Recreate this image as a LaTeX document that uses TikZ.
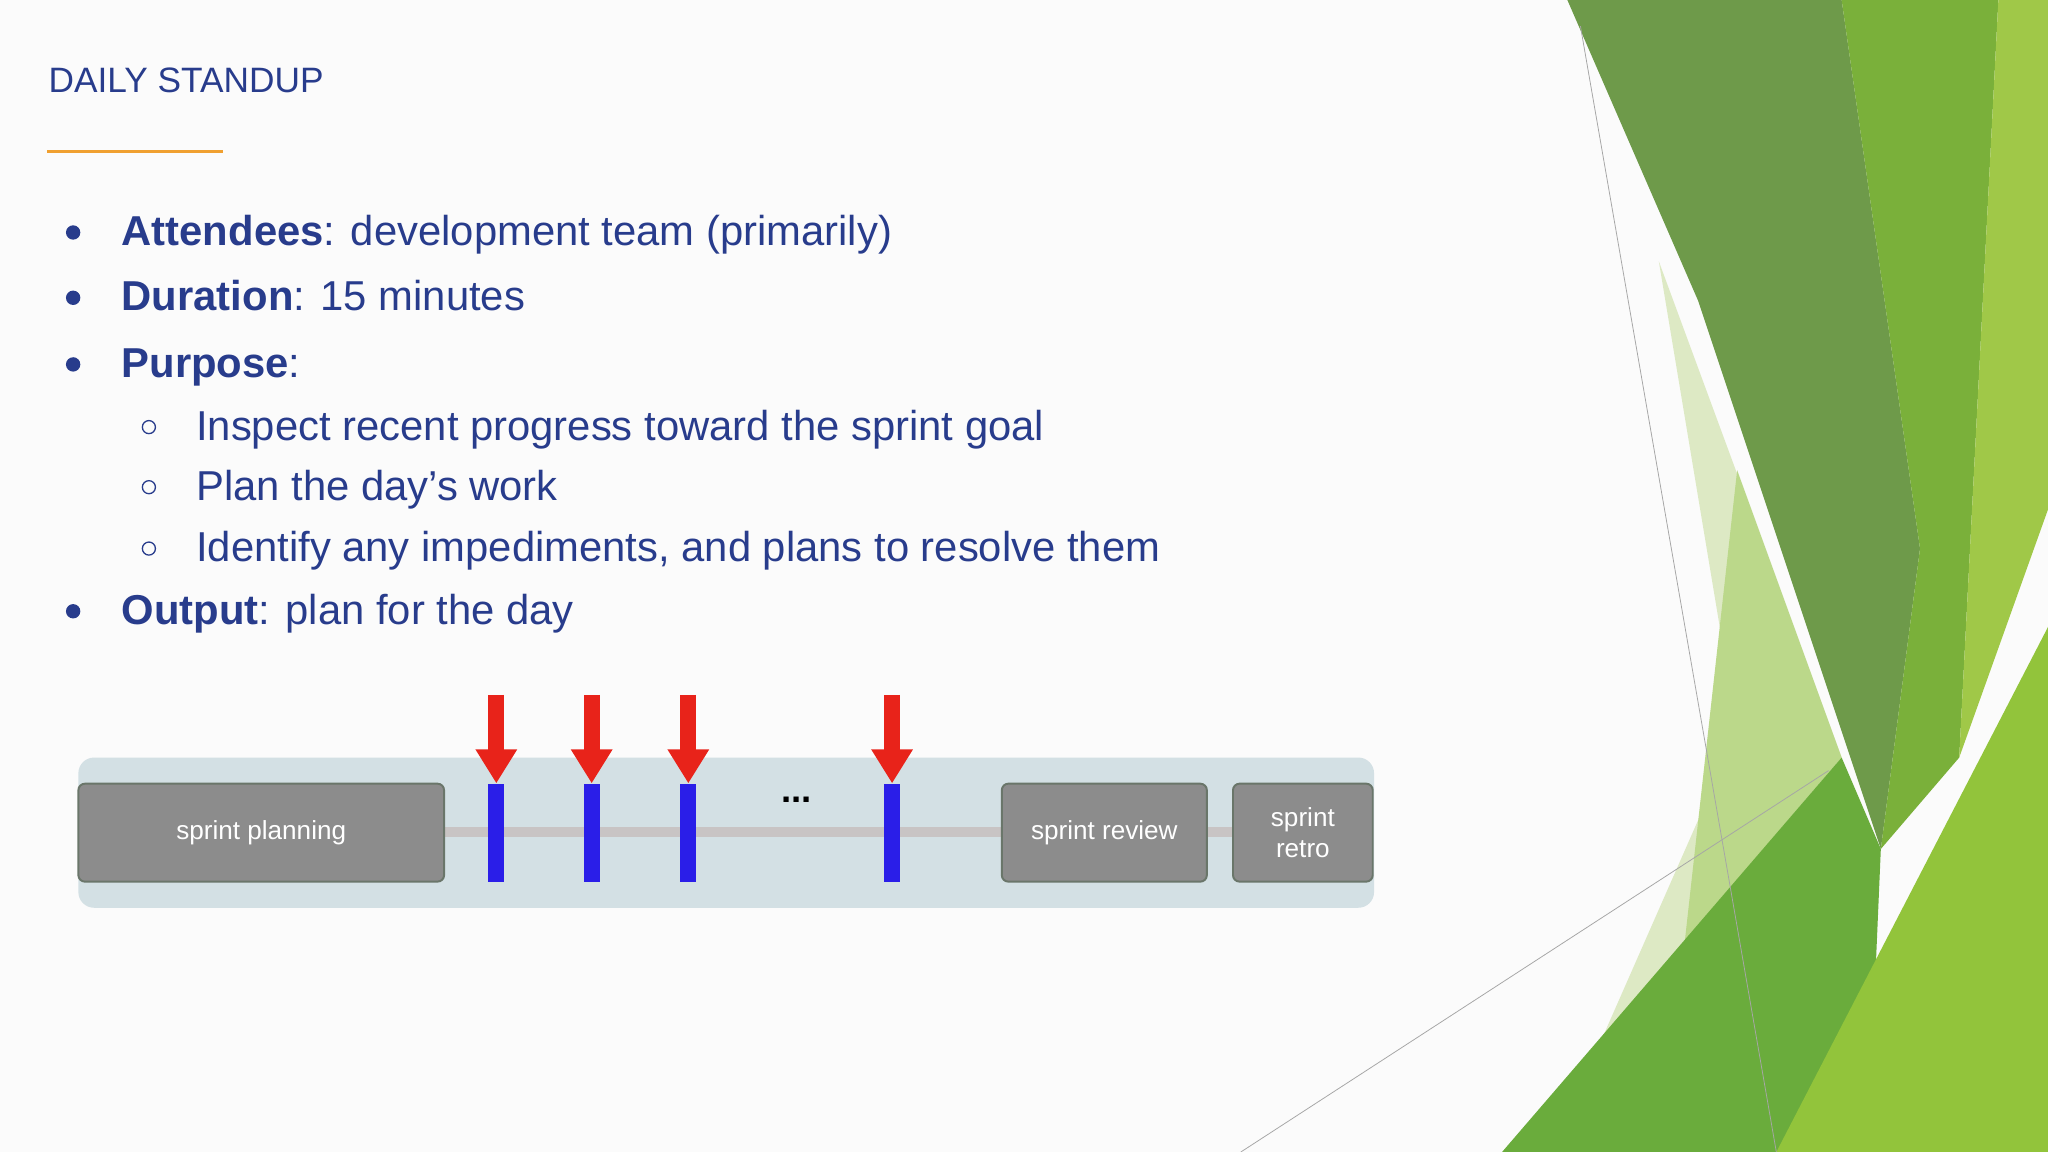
\documentclass[tikz,border=0pt]{standalone}
\usepackage{fontspec}
\setmainfont{Liberation Sans}
\usetikzlibrary{arrows.meta}
\definecolor{navy}{HTML}{283C8C}
\definecolor{boxg}{HTML}{8C8C8C}
\definecolor{boxb}{HTML}{6A766A}
\definecolor{bar}{HTML}{2A1EE8}
\definecolor{arr}{HTML}{E8231A}
\definecolor{gA}{HTML}{6E9A4A}
\definecolor{gB}{HTML}{7AB03A}
\definecolor{gC}{HTML}{A0C848}
\definecolor{gD}{HTML}{6AAC3C}
\definecolor{gE}{HTML}{92C43B}
\definecolor{gP}{HTML}{DDE9C4}
\definecolor{gQ}{HTML}{BBD88A}
\definecolor{orng}{HTML}{F0A030}
\definecolor{lane}{HTML}{D3E0E4}
\definecolor{track}{HTML}{C8C4C4}
\definecolor{bg}{HTML}{FBFBFB}
\tikzset{
 phase/.style={draw=boxb,line width=1.5pt,fill=boxg,rounded corners=5pt,text=white,font=\fontsize{20}{24}\selectfont,align=center,inner sep=0pt},
 daybar/.style={fill=bar,minimum width=12pt,minimum height=75pt,inner sep=0pt},
 redarrow/.style={-{Triangle[width=30pt,length=26pt]},line width=12pt,arr},
 bul/.style={anchor=base west,text=navy,font=\fontsize{32}{36}\selectfont,inner sep=0pt},
}
\begin{document}
\begin{tikzpicture}[x=1pt,y=-1pt]
\useasboundingbox (0,0) rectangle (1568,882);
\fill[bg] (0,0) rectangle (1568,882);
% green decoration
\fill[gP] (1270,200) -- (1410,580) -- (1220,810) -- (1330,560) -- cycle;
\fill[gQ] (1330,360) -- (1410,580) -- (1290,720) -- cycle;
\fill[gA] (1200,0) -- (1410,0) -- (1470,420) -- (1440,650) -- (1300,230) -- cycle;
\fill[gB] (1410,0) -- (1530,0) -- (1500,580) -- (1440,650) -- (1470,420) -- cycle;
\fill[gC] (1530,0) -- (1568,0) -- (1568,390) -- (1500,580) -- cycle;
\fill[gD] (1150,882) -- (1410,580) -- (1440,650) -- (1430,882) -- cycle;
\fill[gE] (1360,882) -- (1568,480) -- (1568,882) -- cycle;
\draw[gray!70,line width=0.6pt] (1210,20) -- (1360,882);
\draw[gray!70,line width=0.6pt] (950,882) -- (1400,590);
% title
\node[anchor=base west,text=navy,font=\fontsize{27}{30}\selectfont,inner sep=0pt] (title) at (37,71) {DAILY STANDUP};
\draw[line width=3pt,orng] (36,116) -- (171,116);
% bullets
\foreach \y in {188,238,289,478} \fill[navy] (56,\y-10) circle (5.5);
\node[bul] (b1) at (93,188) {\textbf{Attendees}: development team (primarily)};
\node[bul] (b2) at (93,238) {\textbf{Duration}: 15 minutes};
\node[bul] (b3) at (93,289) {\textbf{Purpose}:};
\foreach \y in {337,383,430} \draw[navy,line width=1pt] (114,\y-10) circle (5);
\node[bul] (s1) at (150,337) {Inspect recent progress toward the sprint goal};
\node[bul] (s2) at (150,383) {Plan the day's work};
\node[bul] (s3) at (150,430) {Identify any impediments, and plans to resolve them};
\node[bul] (b4) at (93,478) {\textbf{Output}: plan for the day};
% timeline
\fill[lane,rounded corners=12pt] (60,580) rectangle (1052,695);
\draw[line width=8pt,track] (340,637) -- (944,637);
\node[phase,minimum width=280pt,minimum height=75pt] (plan) at (200,637.5) {sprint planning};
\node[phase,minimum width=157pt,minimum height=75pt] (review) at (845.5,637.5) {sprint review};
\node[phase,minimum width=107pt,minimum height=75pt] (retro) at (997.5,637.5) {sprint\\retro};
\foreach \x/\n in {380/d1,453/d2,527/d3,683/d4}{
 \node[daybar] (\n) at (\x,637.5) {};
 \coordinate (\n t) at (\x,532);
 \draw[redarrow] (\n t) -- (\n.north);
}
\node[font=\bfseries\fontsize{28}{30}\selectfont] (dots) at (610,612) {...};
\end{tikzpicture}
\end{document}
